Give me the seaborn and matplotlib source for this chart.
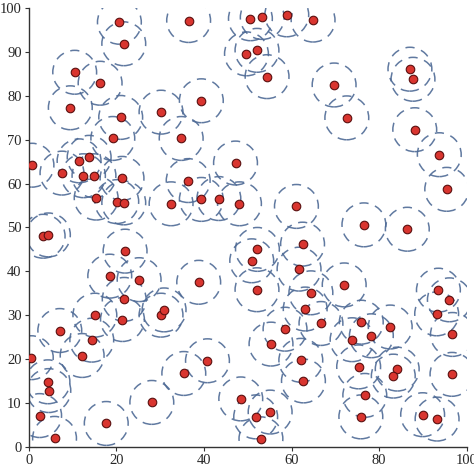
import matplotlib
matplotlib.use("Agg")
import matplotlib.pyplot as plt
import seaborn as sns
import pandas as pd
from matplotlib.patches import Circle

x_vals = [20.7, 36.5, 50.6, 53.3, 58.9, 64.9, 21.7, 49.7, 52.1, 54.4, 10.5, 16.3, 9.5, 21.0,
          30.2, 39.4, 19.2, 34.8, 69.7, 72.6, 87.0, 87.7, 88.1, 93.7, 95.4,
          0.75, 7.6, 11.5, 13.8, 12.5, 14.9, 21.3, 36.4, 47.2, 15.4, 20.1, 21.7, 32.5, 39.4,
          43.4, 48.1, 61.1, 76.5, 86.4,
          3.3, 4.5, 22.0, 18.5, 25.2, 38.8, 21.8, 15.1, 30.2, 30.9, 21.4, 7.1, 14.4, 12.2,
          0.6, 40.8, 35.4, 4.4, 4.6, 28.1, 2.5, 17.7, 5.9, 48.4,
          52.2, 50.9, 62.5, 61.7, 52.1, 72.0, 64.4, 63.1, 66.7, 58.5, 55.3, 75.9, 73.8, 78.2,
          82.5, 62.1, 62.7, 75.3, 84.1, 83.2, 93.5, 96.0, 93.1, 96.7, 96.6, 51.8, 55.1, 53.0,
          76.7, 75.8, 89.9, 93.2]
y_vals = [96.8, 97.2, 97.6, 97.9, 98.5, 97.3, 91.9, 89.6, 90.4, 84.4, 85.4, 82.9, 77.3, 75.1,
          76.3, 78.9, 70.3, 70.3, 82.5, 75.0, 86.1, 83.8, 72.3, 66.6, 58.7,
          64.2, 62.4, 65.2, 66.0, 61.8, 61.8, 61.2, 60.7, 64.7, 56.7, 55.9, 55.6, 55.4, 56.4,
          56.6, 55.4, 54.8, 50.6, 49.6,
          48.0, 48.3, 44.6, 38.9, 38.1, 37.5, 33.6, 30.0, 30.0, 31.2, 29.0, 26.5, 24.3, 20.8,
          20.3, 19.6, 16.7, 14.8, 12.8, 10.1, 7.1, 5.3, 1.9, 10.9,
          45.0, 42.4, 46.2, 40.5, 35.8, 36.9, 35.1, 31.4, 28.1, 26.8, 23.4, 28.4, 24.4, 25.3,
          27.3, 19.7, 15.0, 18.2, 17.7, 16.1, 35.7, 33.5, 30.3, 25.6, 16.5, 6.8, 7.9, 1.8,
          11.7, 6.8, 7.3, 6.3]
radius = 5.0

df = pd.DataFrame({"x": x_vals, "y": y_vals})

sns.set_style("white")
plt.rcParams['font.family'] = ['Liberation Serif', 'DejaVu Serif']

fig = plt.figure(figsize=(4.74, 4.74), dpi=100)
ax = fig.add_axes([0.0605, 0.0576, 0.9245, 0.925])

for xi, yi in zip(df["x"], df["y"]):
    ax.add_patch(Circle((xi, yi), radius, fill=False, edgecolor="#4f6b96",
                        linestyle=(0, (6, 4.5)), linewidth=1.1, alpha=0.9, zorder=1))

sns.scatterplot(data=df, x="x", y="y", ax=ax, color="#d9352f", edgecolor="#5a1010",
                linewidth=0.8, s=38, zorder=3)

ax.set_xlim(0, 100)
ax.set_ylim(0, 100)
ax.set_xticks(range(0, 101, 20))
ax.set_yticks(range(0, 101, 10))
ax.set_xlabel("")
ax.set_ylabel("")
for s in ["top", "right"]:
    ax.spines[s].set_visible(False)
for s in ["left", "bottom"]:
    ax.spines[s].set_color("#333333")
    ax.spines[s].set_linewidth(1.0)
ax.tick_params(axis="both", length=3, color="#333333", labelsize=10.5, direction="out",
               left=True, bottom=True, pad=2)

fig.savefig("out.png", dpi=100)
